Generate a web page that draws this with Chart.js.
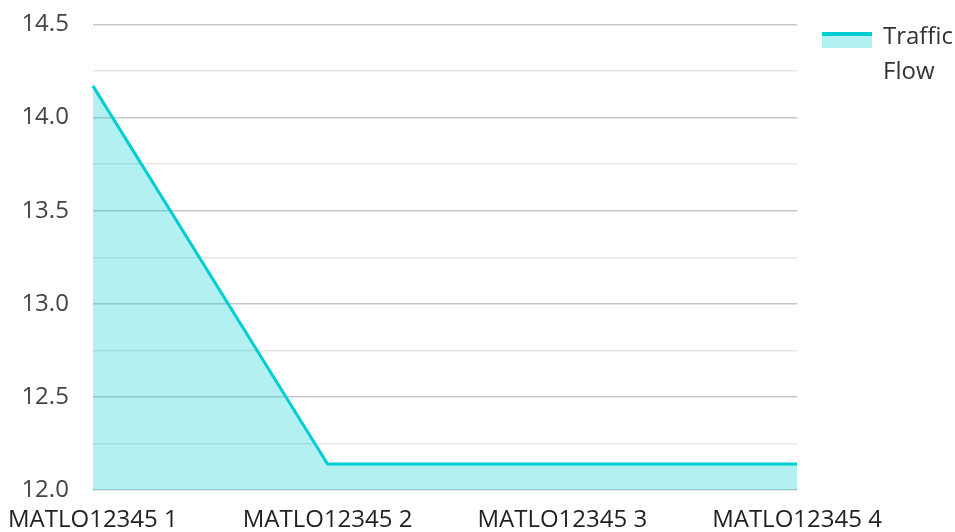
<!DOCTYPE html>
<html>
<head>
<meta charset="utf-8">
<script src="https://cdn.jsdelivr.net/npm/chart.js@4"></script>
<style>
  html, body { margin: 0; padding: 0; background: #fff; }
  .wrap { position: relative; width: 955px; height: 532px; }
  .legend { position: absolute; left: 822px; top: 0; font: 24px "Open Sans"; color: #333; }
  .legend .box { position: absolute; left: 0; top: 32px; width: 50px; height: 16px; background: rgba(0,206,209,0.3); border-top: 4px solid #00ced1; box-sizing: border-box; }
  .legend .txt { position: absolute; left: 61px; top: 17px; line-height: 35px; white-space: nowrap; }
</style>
</head>
<body>
<div class="wrap">
  <canvas id="chart" width="955" height="532"></canvas>
  <div class="legend"><div class="box"></div><div class="txt">Traffic<br>Flow</div></div>
</div>
<script>
var categories = ['MATLO12345 1', 'MATLO12345 2', 'MATLO12345 3', 'MATLO12345 4'];
var trafficFlow = [14.17, 12.14, 12.14, 12.14];
var yMin = 12.0, yMax = 14.5, yStep = 0.25;

var ctx = document.getElementById('chart').getContext('2d');
var chart = new Chart(ctx, {
    type: 'line',
    data: {
        labels: categories,
        datasets: [{
            label: 'Traffic Flow',
            data: trafficFlow,
            borderColor: '#00ced1',
            backgroundColor: 'rgba(0,206,209,0.3)',
            borderWidth: 3,
            fill: 'origin',
            pointRadius: 0,
            tension: 0
        }]
    },
    options: {
        responsive: false,
        animation: false,
        layout: { padding: { left: 2, right: 158, top: 0, bottom: -11 } },
        plugins: { legend: { display: false }, tooltip: { enabled: false } },
        scales: {
            x: {
                offset: false,
                grid: { display: false },
                border: { display: false },
                ticks: { font: { family: 'Open Sans', size: 24 }, color: '#222', padding: 8, maxRotation: 0, autoSkip: false }
            },
            y: {
                min: yMin,
                max: yMax,
                border: { display: false },
                grid: {
                    drawTicks: true,
                    tickLength: 14,
                    tickColor: 'rgba(0,0,0,0)',
                    lineWidth: 1.5,
                    color: function (c) {
                        var v = c.tick ? c.tick.value : 0;
                        return Math.abs(v * 2 - Math.round(v * 2)) < 1e-6 ? '#c8c8c8' : '#e6e6e6';
                    }
                },
                ticks: {
                    stepSize: yStep,
                    padding: 10,
                    color: '#444',
                    font: { family: 'Open Sans', size: 24 },
                    callback: function (v) {
                        return Math.abs(v * 2 - Math.round(v * 2)) < 1e-6 ? v.toFixed(1) : '';
                    }
                }
            }
        }
    }
});
</script>
</body>
</html>
